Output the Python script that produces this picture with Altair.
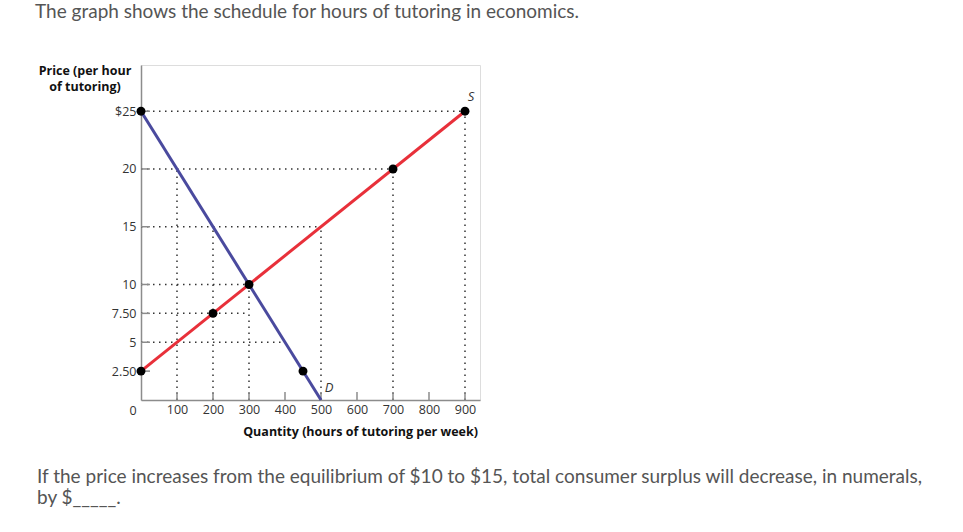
import altair as alt
import pandas as pd

# ---- data ----
demand_q = [0, 500]
demand_p = [25, 0]
supply_q = [0, 900]
supply_p = [2.5, 25]
point_q = [0, 450, 0, 200, 300, 700, 900]
point_p = [25, 2.5, 2.5, 7.5, 10, 20, 25]
hguide_p = [25, 20, 15, 10, 7.5, 5]
hguide_q = [900, 700, 500, 300, 300, 400]
vguide_q = [100, 200, 300, 500, 700, 900]
vguide_p = [20, 15, 10, 15, 20, 25]
x_ticks = [100, 200, 300, 400, 500, 600, 700, 800, 900]
y_ticks = [2.5, 5, 7.5, 10, 15, 20, 25]

W, H = 339, 335
LEFT, TOP = 141, 65
FONT = "Open Sans"
AX = "#8c8c8c"

xs = alt.Scale(domain=[0, 941.67], nice=False, zero=False)
ys = alt.Scale(domain=[0, 29], nice=False, zero=False)

demand = pd.DataFrame({"q": demand_q, "p": demand_p})
supply = pd.DataFrame({"q": supply_q, "p": supply_p})
pts = pd.DataFrame({"q": point_q, "p": point_p})
hg = pd.DataFrame({"p": hguide_p, "q": hguide_q, "z": [0] * len(hguide_p)})
vg = pd.DataFrame({"q": vguide_q, "p": vguide_p, "z": [0] * len(vguide_q)})
xt = pd.DataFrame({"q": x_ticks})
yt = pd.DataFrame({"p": y_ticks})

LFS = 12.5
xaxis = alt.Axis(values=x_ticks, ticks=False, grid=False, domainColor=AX, domainWidth=1.5,
                 labelFont=FONT, labelFontSize=LFS, labelColor="#333", labelPadding=3,
                 title=None, labelAngle=0)
yaxis = alt.Axis(values=y_ticks, ticks=False, grid=False, domainColor=AX, domainWidth=1.5,
                 labelFont=FONT, labelFontSize=LFS, labelColor="#333", labelPadding=5,
                 title=None,
                 labelExpr="datum.value == 25 ? '$25' : datum.value == 7.5 ? '7.50' : datum.value == 2.5 ? '2.50' : datum.label")

dot = dict(strokeDash=[1.5, 4.5], strokeWidth=1.5, color="#333")

hlines = alt.Chart(hg).mark_rule(**dot).encode(
    x=alt.X("z:Q", scale=xs, axis=xaxis), x2="q:Q",
    y=alt.Y("p:Q", scale=ys, axis=yaxis))
vlines = alt.Chart(vg).mark_rule(**dot).encode(
    x=alt.X("q:Q", scale=xs), y=alt.Y("z:Q", scale=ys), y2="p:Q")

xtick = alt.Chart(xt).mark_rule(color=AX, strokeWidth=1.5).encode(
    x=alt.X("q:Q", scale=xs), y=alt.value(H), y2=alt.value(H - 8))
ytick = alt.Chart(yt).mark_rule(color=AX, strokeWidth=1.5).encode(
    y=alt.Y("p:Q", scale=ys), x=alt.value(0), x2=alt.value(9))

dline = alt.Chart(demand).mark_line(color="#4a4a9e", strokeWidth=3).encode(
    x=alt.X("q:Q", scale=xs), y=alt.Y("p:Q", scale=ys))
sline = alt.Chart(supply).mark_line(color="#e8303a", strokeWidth=3).encode(
    x=alt.X("q:Q", scale=xs), y=alt.Y("p:Q", scale=ys))
points = alt.Chart(pts).mark_point(filled=True, color="black", size=80, opacity=1).encode(
    x=alt.X("q:Q", scale=xs), y=alt.Y("p:Q", scale=ys))

s_lab = alt.Chart(pd.DataFrame({"q": [900], "p": [25], "t": ["S"]})).mark_text(
    font=FONT, fontStyle="italic", fontSize=13, color="#333", dx=6, dy=-14).encode(
    x=alt.X("q:Q", scale=xs), y=alt.Y("p:Q", scale=ys), text="t:N")
d_lab = alt.Chart(pd.DataFrame({"q": [500], "p": [0], "t": ["D"]})).mark_text(
    font=FONT, fontStyle="italic", fontSize=13, color="#333", dx=8, dy=-12).encode(
    x=alt.X("q:Q", scale=xs), y=alt.Y("p:Q", scale=ys), text="t:N")
zero_lab = alt.Chart(pd.DataFrame({"q": [0], "p": [0], "t": ["0"]})).mark_text(
    font=FONT, fontSize=LFS, color="#333", dx=-8, dy=11).encode(
    x=alt.X("q:Q", scale=xs), y=alt.Y("p:Q", scale=ys), text="t:N")

def txt(s, x, y, **kw):
    return alt.Chart(pd.DataFrame({"t": [s]})).mark_text(baseline="middle", **kw).encode(
        x=alt.value(x), y=alt.value(y), text="t:N")

TF = dict(font=FONT, fontWeight="bold", fontSize=12.5, color="#111")
ytitle1 = txt("Price (per hour", -56, 5.5, align="center", **TF)
ytitle2 = txt("of tutoring)", -56, 21.5, align="center", **TF)
xtitle = txt("Quantity (hours of tutoring per week)", 337, 367, align="right", **TF)
PF = dict(font="Lato", fontSize=19, color="#555", align="left")
header = txt("The graph shows the schedule for hours of tutoring in economics.", 35 - LEFT, 12 - TOP, **PF)
foot1 = txt("If the price increases from the equilibrium of $10 to $15, total consumer surplus will decrease, in numerals,",
            37 - LEFT, 477 - TOP, **PF)
foot2 = txt("by $_____.", 37 - LEFT, 498 - TOP, **PF)

chart = alt.layer(hlines, vlines, xtick, ytick, dline, sline, points, s_lab, d_lab, zero_lab,
                  ytitle1, ytitle2, xtitle, header, foot1, foot2).properties(
    width=W, height=H,
    autosize=alt.AutoSizeParams(type="none"),
    padding={"left": LEFT, "top": TOP, "right": 963 - LEFT - W, "bottom": 532 - TOP - H},
).configure_view(stroke=None).configure(background="white")

chart.save("out.html", embed_options={"renderer": "svg", "actions": False})
